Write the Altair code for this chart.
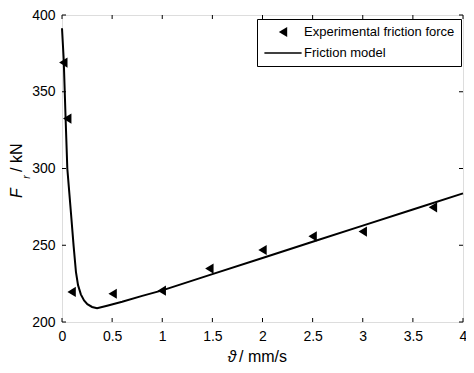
import altair as alt
import pandas as pd

# Friction model curve
model_v = [0, 0.017, 0.036, 0.053, 0.068, 0.09, 0.116, 0.139, 0.16, 0.188, 0.22, 0.253,
           0.3, 0.35, 0.45, 0.6, 0.8, 1.0, 1.5, 2.0, 2.5, 3.0, 3.5, 4.0]
model_F = [391.4, 371, 332.5, 300, 288, 270.5, 249.4, 232.7, 224, 218, 214, 211.6,
           209.8, 208.9, 210.6, 213.2, 217.0, 220.6, 231.2, 241.7, 252.3, 262.8, 273.3, 283.8]

# Experimental friction force
exp_v = [0.013, 0.052, 0.096, 0.505, 0.995, 1.47, 2.0, 2.5, 3.0, 3.7]
exp_F = [369, 332.5, 219.6, 218.4, 220.4, 234.8, 246.9, 255.8, 258.9, 274.7]

x_ticks = [0, 0.5, 1, 1.5, 2, 2.5, 3, 3.5, 4]
y_ticks = [200, 250, 300, 350, 400]

series_names = ["Experimental friction force", "Friction model"]

W, H = 401, 307
FONT = "Liberation Sans"

model_df = pd.DataFrame({"v": model_v, "F": model_F, "series": series_names[1]})
exp_df = pd.DataFrame({"v": exp_v, "F": exp_F, "series": series_names[0]})
xt_df = pd.DataFrame({"v": x_ticks})
yt_df = pd.DataFrame({"F": y_ticks})

xscale = alt.Scale(domain=[0, 4], nice=False, zero=False)
yscale = alt.Scale(domain=[200, 400], nice=False, zero=False)
xaxis = alt.Axis(values=x_ticks, title=None, ticks=False, tickSize=0, domain=False, grid=False,
                 labelFont=FONT, labelFontSize=14, labelColor="black", labelPadding=7,
                 labelFlush=False, labelExpr="format(datum.value, '')")
yaxis = alt.Axis(values=y_ticks, title=None, ticks=False, tickSize=0, domain=False, grid=False,
                 labelFont=FONT, labelFontSize=14, labelColor="black", labelPadding=7,
                 labelFlush=False)

X = alt.X("v:Q", scale=xscale, axis=xaxis)
Y = alt.Y("F:Q", scale=yscale, axis=yaxis)

# legend symbol shapes (unit paths, scaled by sqrt(size)/2 = 6 px)
tri_left = "M-0.7,0L0.7,-0.85L0.7,0.85Z"
line_sym = "M-3.1,-0.13H3.1V0.13H-3.1Z"

leg = alt.Legend(title=None, orient="none", legendX=195, legendY=4,
                 labelFont=FONT, labelFontSize=13, labelColor="black",
                 strokeColor="black", fillColor="white", padding=6,
                 symbolSize=144, labelOffset=14, rowPadding=5, symbolOffset=13,
                 columnPadding=0)

line = alt.Chart(model_df).mark_line(color="black", strokeWidth=2).encode(x=X, y=Y)

points = alt.Chart(exp_df).mark_point(filled=True, color="black", opacity=1, size=144).encode(
    x=X, y=Y,
    shape=alt.Shape("series:N", scale=alt.Scale(domain=series_names, range=[tri_left, line_sym]), legend=leg),
)

tick_len = 4
xt_bot = alt.Chart(xt_df).mark_rule(color="black").encode(x=X, y=alt.value(H), y2=alt.value(H - tick_len))
xt_top = alt.Chart(xt_df).mark_rule(color="black").encode(x=X, y=alt.value(0), y2=alt.value(tick_len))
yt_left = alt.Chart(yt_df).mark_rule(color="black").encode(y=Y, x=alt.value(0), x2=alt.value(tick_len))
yt_right = alt.Chart(yt_df).mark_rule(color="black").encode(y=Y, x=alt.value(W), x2=alt.value(W - tick_len))

def label(txt, x, y, size=15, style="normal", align="center", angle=0):
    kw = dict(font=FONT, fontSize=size, fontStyle=style, align=align, baseline="alphabetic", color="black")
    if angle:
        kw["angle"] = angle
    return alt.Chart(pd.DataFrame({"t": [txt]})).mark_text(**kw).encode(
        text="t:N", x=alt.value(x), y=alt.value(y))

ytitle_F = label("F", -40, 178, size=16, style="italic", angle=270)
ytitle_r = label("r", -32, 162, size=10, style="italic", angle=270)
ytitle_kN = label("/ kN", -40, 157, size=16, align="left", angle=270)
xtitle_th = label("ϑ", 170, 347, size=16, style="italic")
xtitle_u = label("/ mm/s", 177, 347, size=16, align="left")

chart = alt.layer(
    line, points, xt_bot, xt_top, yt_left, yt_right,
    ytitle_F, ytitle_r, ytitle_kN, xtitle_th, xtitle_u,
).properties(
    width=W, height=H,
    padding={"left": 54, "top": 7, "right": 3, "bottom": 43},
    autosize=alt.AutoSizeParams(type="none"),
).configure_view(stroke="black", strokeWidth=1).configure(background="white")

chart.save("out.html", embed_options={"renderer": "svg", "actions": False})
